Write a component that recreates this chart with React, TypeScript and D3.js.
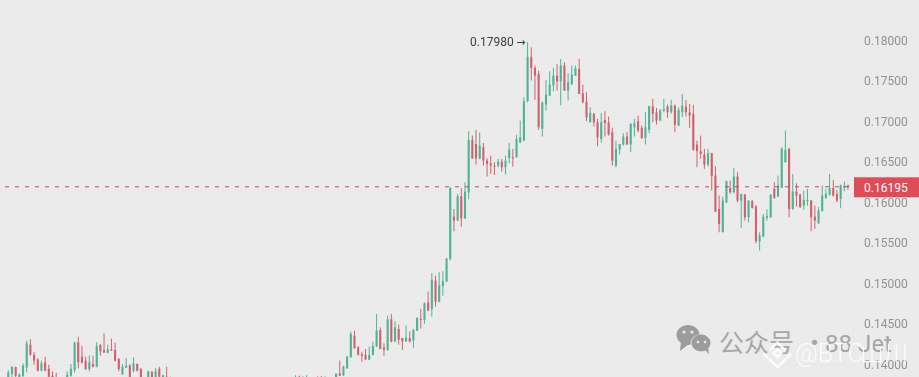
import React from "react";
import * as d3 from "d3";

const W = 919;
const H = 377;

// Prices are in units of 0.00001. Each row: [open, high, low, close]
type Row = [number, number, number, number];
const PRICE_UNIT = 0.00001;

const barsEarly: Row[] = [
  [13823,13934,13803,13905],[13885,13979,13823,13975],[13971,13975,13803,13864],[13823,13893,13803,13877],[13864,14016,13823,13988],
  [13967,14296,13905,14263],[14247,14313,14111,14123],[14123,14156,14000,14049],[14066,14078,13918,13926],[13926,14049,13918,14016],
  [14029,14099,13918,13926],[13951,14000,13848,13852],[13864,13918,13782,13819],[13844,13901,13761,13803],[13780,13820,13760,13800],
  [13800,13830,13770,13790],[13823,13918,13803,13877],[13864,14008,13852,13951],[13934,14284,13905,14272],[14276,14346,13955,14029],
  [14099,14235,14016,14025],[14049,14099,13934,13947],[13947,14115,13918,14029],[14008,14111,13967,13975],[13975,14276,13967,14235],
  [14243,14255,14111,14165],[14181,14387,14148,14148],[14148,14247,14140,14189],[14189,14321,14173,14173],[14181,14272,14041,14049],
  [14070,14082,13918,13947],[13885,14008,13872,13975],[13963,14082,13959,13988],[13988,14008,13803,13819],[13926,14091,13905,14016],
  [14008,14016,13918,13926],[13947,13959,13803,13819],[13790,13830,13770,13810],[13819,13926,13803,13918],[13910,13926,13803,13819],
  [13819,13959,13803,13918],[13951,13975,13823,13852],[13819,13877,13803,13868],[13852,13975,13803,13819],[13844,13852,13761,13803],
];

// bars that lie below the visible price range between the two groups
const barsBelowRange = 33;

const barsRally: Row[] = [
  [13800,13869,13780,13844],[13852,13865,13790,13810],[13844,13856,13790,13810],[13800,13869,13780,13836],[13800,13830,13780,13820],
  [13800,13844,13780,13830],[13836,13856,13790,13810],[13835,13860,13790,13810],[13835,13856,13790,13810],[13810,13830,13790,13820],
  [13820,13835,13800,13815],[13840,13897,13823,13885],[13893,14050,13860,13865],[13869,13988,13860,13976],[13955,14111,13951,14099],
  [14091,14408,14087,14379],[14358,14420,14198,14202],[14214,14231,14111,14124],[14132,14161,14037,14111],[14120,14194,14058,14066],
  [14062,14223,14058,14120],[14120,14284,14116,14231],[14223,14626,14218,14420],[14428,14461,14190,14194],[14214,14264,14111,14185],
  [14181,14605,14173,14560],[14560,14626,14276,14288],[14288,14535,14280,14461],[14441,14494,14247,14309],[14330,14330,14181,14288],
  [14288,14482,14280,14338],[14330,14412,14272,14288],[14297,14441,14210,14428],[14420,14585,14416,14576],[14564,14688,14445,14552],
  [14552,14770,14506,14757],[14770,14902,14659,14667],[14688,15132,14593,15046],[15037,15099,14716,14778],[14778,15140,14770,14976],
  [14967,15153,14852,15029],[15025,15317,15021,15309],
];

const barsPeak: Row[] = [
  [15308,16189,15284,16181],[15827,15922,15646,15777],[15777,16107,15777,16078],[16078,16181,15703,15806],[15806,16251,15798,16135],
  [16127,16880,16041,16773],[16773,16827,16543,16543],[16724,16897,16469,16543],[16543,16868,16535,16703],[16683,16736,16456,16518],
  [16518,16547,16321,16477],[16485,16580,16354,16456],[16456,16498,16341,16448],[16456,16539,16436,16506],[16506,16539,16382,16436],
  [16436,16580,16345,16518],[16551,16736,16485,16654],[16559,16662,16444,16551],[16559,16835,16555,16786],[16744,17012,16732,16806],
  [16765,17300,16757,17251],[17251,17980,17238,17794],[17794,17917,17506,17662],[17662,17691,17267,17567],[17588,17629,16897,16930],
  [16909,17246,16814,17234],[17209,17514,17135,17333],[17321,17621,17312,17456],[17444,17662,17374,17567],[17567,17712,17382,17498],
  [17498,17773,17201,17691],[17691,17732,17382,17382],[17382,17596,17259,17485],[17465,17691,17448,17580],[17567,17691,17563,17658],
  [17650,17773,17341,17341],[17349,17456,17226,17238],[17242,17362,17004,17053],
];

const barsPlateau: Row[] = [
  [16992,17177,16988,17107],[17095,17107,16938,16992],[16992,17033,16695,16806],[16786,17107,16737,16992],[17020,17127,16815,16983],
  [16992,17062,16827,16839],[16868,16922,16457,16518],[16457,16765,16436,16662],[16654,16724,16592,16724],[16716,16856,16704,16815],
  [16815,16868,16716,16716],[16716,16979,16625,16971],[16930,17033,16815,16979],[17004,17074,16868,16889],[16922,16950,16782,16798],
  [16798,17115,16716,16930],[16897,17197,16856,17189],[17185,17280,16992,17095],[17115,17169,16963,17012],[17012,17156,17012,17136],
  [17136,17280,17115,17156],[17185,17210,17045,17115],[17115,17267,17095,17197],[17197,17210,16868,16959],[16950,17177,16942,17144],
  [17115,17341,17053,17197],[17185,17267,17062,17115],[17115,17218,16922,17074],[17095,17206,16642,16650],[16716,16765,16436,16634],
  [16634,16827,16539,16601],[16592,16662,16416,16469],[16469,16662,16444,16609],
];

const barsLate: Row[] = [
  [16613,16613,16148,16325],[16334,16449,15881,15889],[15922,16087,15634,15737],[15634,16074,15634,16025],[16004,16272,15992,16264],
  [16181,16272,16107,16128],[16128,16428,16115,16321],[16321,16375,16004,16025],[16025,16107,15688,16107],[16099,16107,15778,15819],
  [15819,16025,15757,16025],[16017,16033,15926,15934],[15951,15971,15498,15523],[15523,15634,15408,15593],[15581,15860,15572,15827],
  [15811,15918,15778,15836],[15819,16099,15811,16099],[16169,16251,16046,16058],[16074,16334,16074,16210],[16181,16683,16181,16663],
  [16498,16889,16498,16650],[16663,16675,15819,15922],[15922,16354,15910,16136],[16136,16239,15951,16087],[16099,16107,15934,15943],
  [15963,16148,15910,16033],[16025,16169,15963,16033],[16025,16033,15646,15819],[15827,15963,15675,15778],[15745,15943,15737,15902],
  [15893,16210,15893,16087],[16058,16169,16046,16107],[16099,16354,16087,16181],[16181,16280,16074,16087],[16107,16157,16004,16025],
  [16046,16222,15930,16214],[16181,16259,16140,16210],[16210,16222,16157,16195],
];

const priceTicks = [0.18, 0.175, 0.17, 0.165, 0.16, 0.155, 0.15, 0.145, 0.14];
const lastPrice = 0.16195;
const highLabel = "0.17980";
const highPrice = 0.1798;

const UP = "#4fb398";
const DOWN = "#d0626e";
const TAG = "#df4b57";
const AXIS_TEXT = "#8e9397";
const FONT = "Roboto, sans-serif";
const CJK = "'Noto Sans CJK SC', sans-serif";

const laterBars = [...barsRally, ...barsPeak, ...barsPlateau, ...barsLate];
const firstLaterIndex = barsEarly.length + barsBelowRange;
const candles = [
  ...barsEarly.map((r, i) => ({ r, i })),
  ...laterBars.map((r, i) => ({ r, i: firstLaterIndex + i })),
];
const lastIndex = firstLaterIndex + laterBars.length - 1;

const x = d3.scaleLinear().domain([0, lastIndex]).range([8.3, 848]);
const y = d3.scaleLinear().domain([0.14, 0.18]).range([364.7, 40.5]);
const peakIndex = candles.find((c) => c.r[1] === 17980)!.i;
const gridX = d3.range(86, 853, 88);

export default function App() {
  const bodyW = 2.1;
  return (
    <svg
      width={W}
      height={H}
      viewBox={`0 0 ${W} ${H}`}
      style={{ position: "absolute", left: 0, top: 0, display: "block" }}
    >
      <defs>
        <filter id="soft" x="-2%" y="-2%" width="104%" height="104%">
          <feGaussianBlur stdDeviation="0.4" />
        </filter>
        <filter id="softText" x="-5%" y="-5%" width="110%" height="110%">
          <feGaussianBlur stdDeviation="0.25" />
        </filter>
      </defs>
      <rect width={W} height={H} fill="#ebebeb" />

      <g stroke="#e8e8e8" strokeWidth={1}>
        {priceTicks.map((t) => (
          <line key={t} x1={0} x2={853} y1={y(t)} y2={y(t)} />
        ))}
        {gridX.map((g) => (
          <line key={g} x1={g + 0.5} x2={g + 0.5} y1={0} y2={H} />
        ))}
        <line x1={853.5} x2={853.5} y1={0} y2={H} />
      </g>

      <g filter="url(#soft)">
        {candles.map(({ r, i }) => {
          const [o, h, l, c] = r;
          const color = c >= o ? UP : DOWN;
          const top = y(Math.max(o, c) * PRICE_UNIT);
          const bottom = y(Math.min(o, c) * PRICE_UNIT);
          return (
            <g key={i}>
              <line
                x1={x(i)}
                x2={x(i)}
                y1={y(h * PRICE_UNIT)}
                y2={y(l * PRICE_UNIT)}
                stroke={color}
                strokeWidth={1}
              />
              <rect
                x={x(i) - bodyW / 2}
                y={top}
                width={bodyW}
                height={Math.max(bottom - top, 1)}
                fill={color}
              />
            </g>
          );
        })}
      </g>

      <line
        x1={5}
        x2={853}
        y1={y(lastPrice)}
        y2={y(lastPrice)}
        stroke="#c24a5a"
        strokeWidth={1}
        strokeDasharray="4 6"
      />

      <g filter="url(#softText)" fontFamily={FONT} fontSize={12}>
        {priceTicks.map((t) => (
          <text key={t} x={864} y={y(t)} dy="0.36em" fill={AXIS_TEXT}>
            {t.toFixed(5)}
          </text>
        ))}
        <text x={470} y={y(highPrice) - 0.5} dy="0.36em" fill="#3a3f44">
          {highLabel}
        </text>
        <text
          x={x(peakIndex) - 2}
          y={y(highPrice) - 0.5}
          dy="0.36em"
          textAnchor="end"
          fill="#3a3f44"
          fontFamily="'DejaVu Sans', sans-serif"
          fontSize={11}
        >
          →
        </text>
      </g>

      <rect x={854} y={y(lastPrice) - 9.5} width={65} height={20} fill={TAG} />
      <text
        x={864}
        y={y(lastPrice) + 0.5}
        dy="0.36em"
        fill="#ffffff"
        fontFamily={FONT}
        fontSize={12}
      >
        {lastPrice.toFixed(5)}
      </text>

      {/* watermarks */}
      <g fill="#9c9c9c">
        <ellipse cx={688} cy={335} rx={11.5} ry={10} />
        <path d="M681 342 L680 351 L689 344 Z" />
        <ellipse cx={701} cy={343} rx={10.5} ry={9} fill="#ebebeb" opacity={0.9} />
        <ellipse cx={701} cy={343} rx={9.5} ry={8.5} />
        <path d="M704 349 L709 354 L708 347 Z" />
        <g fill="#ebebeb">
          <circle cx={684} cy={332} r={1.6} />
          <circle cx={692} cy={332} r={1.6} />
          <circle cx={698} cy={342} r={1.3} />
          <circle cx={705} cy={342} r={1.3} />
        </g>
      </g>
      <text x={719} y={352} fontFamily={CJK} fontSize={25} fill="#a6a6a6">
        公众号
      </text>
      <text x={802} y={352} fontFamily={CJK} fontSize={25} fill="#a6a6a6">
        ·
      </text>
      <text x={825} y={352} fontFamily={FONT} fontSize={24} fill="#a6a6a6">
        88 Jet
      </text>

      <g fill="none" stroke="#ffffff" strokeWidth={2.6} opacity={0.85}>
        <path d="M770 350 L777.5 342.5 L785 350" />
        <path d="M773.5 353 L777.5 349 L781.5 353 L777.5 357 Z" />
        <path d="M764 354 L768 358 M791 354 L787 358" />
        <path d="M769 359 L777.5 367 L786 359" />
      </g>
      <text
        x={795}
        y={362}
        fontFamily={FONT}
        fontSize={25}
        fontWeight={300}
        fill="#ffffff"
        opacity={0.85}
      >
        @BTC
      </text>
      <text
        x={860}
        y={362}
        fontFamily={CJK}
        fontSize={24}
        fontWeight={300}
        fill="#ffffff"
        opacity={0.85}
      >
        山川
      </text>
    </svg>
  );
}
